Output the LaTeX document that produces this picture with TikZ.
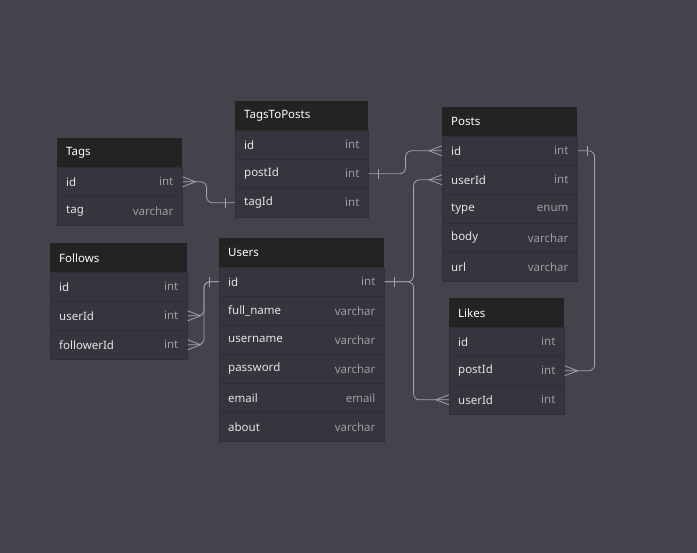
\documentclass[tikz,border=0pt]{standalone}
\usepackage{fontspec}
\setmainfont{Noto Sans}
\usetikzlibrary{calc}
\definecolor{bg}{HTML}{44434B}
\definecolor{hdr}{HTML}{232323}
\definecolor{rowc}{HTML}{35353D}
\definecolor{sep}{HTML}{2E2E35}
\definecolor{ntxt}{HTML}{E4E4E6}
\definecolor{ttxt}{HTML}{9C9CA2}
\definecolor{lnc}{HTML}{A2A2AA}
\tikzset{
  hdrbox/.style={fill=hdr,draw=none,anchor=north west,inner sep=0pt},
  rowbox/.style={fill=rowc,draw=sep,line width=0.6pt,anchor=north west,inner sep=0pt},
  ntext/.style={anchor=west,text=ntxt,inner sep=0pt,font=\fontsize{11.5}{13}\selectfont},
  ttext/.style={anchor=east,text=ttxt,inner sep=0pt,font=\fontsize{11.5}{13}\selectfont},
  htext/.style={anchor=west,text=white,inner sep=0pt,font=\bfseries\fontsize{11.5}{13}\selectfont},
  conn/.style={draw=lnc,line width=0.8pt,rounded corners=6pt},
  endmark/.style={draw=lnc,line width=0.8pt}
}
% \tbl{name}{x}{y}{w}{title}{rows: name/type}
\newcommand{\tbl}[6]{%
  \node[hdrbox,minimum width=#4pt,minimum height=29pt] (#1-0) at (#2,#3) {};
  \node[htext] at ($(#1-0.west)+(9,0)$) {#5};
  \foreach [count=\i] \n/\t in {#6} {
    \pgfmathsetmacro\yy{#3+29*\i}
    \node[rowbox,minimum width=#4pt,minimum height=29pt] (#1-\i) at (#2,\yy) {};
    \ifnum\i=1
      \node[ntext,font=\bfseries\fontsize{11.5}{13}\selectfont] at ($(#1-\i.west)+(9,0)$) {\n};
      \node[ttext,font=\bfseries\fontsize{11.5}{13}\selectfont] at ($(#1-\i.east)+(-9,0)$) {\t};
    \else
      \node[ntext] at ($(#1-\i.west)+(9,0)$) {\n};
      \node[ttext] at ($(#1-\i.east)+(-9,0)$) {\t};
    \fi
  }%
}
% crow's foot: #1 point on table edge, #2 = +1 (lines go right) or -1
\newcommand{\crow}[2]{%
  \draw[endmark] ($(#1)+(0,5)$) -- ($(#1)+(#2*13,0)$) -- ($(#1)+(0,-5)$);
}
\newcommand{\onebar}[2]{%
  \draw[endmark] ($(#1)+(#2*10,5)$) -- ($(#1)+(#2*10,-5)$);
}
\begin{document}
\begin{tikzpicture}[x=1pt,y=-1pt]
\fill[bg] (0,0) rectangle (697,553);
\useasboundingbox (0,0) rectangle (697,553);
\tbl{tags}{57}{138}{125}{Tags}{id/int,tag/varchar}
\tbl{ttp}{235}{101}{133}{TagsToPosts}{id/int,postId/int,tagId/int}
\tbl{posts}{442}{107}{135}{Posts}{id/int,userId/int,type/enum,body/varchar,url/varchar}
\tbl{follows}{50}{243}{137}{Follows}{id/int,userId/int,followerId/int}
\tbl{users}{219}{238}{165}{Users}{id/int,full\_name/varchar,username/varchar,password/varchar,email/email,about/varchar}
\tbl{likes}{449}{298}{115}{Likes}{id/int,postId/int,userId/int}
% connectors
\draw[conn] (tags-1.east) -- ++(24,0) |- (ttp-3.west);
\crow{tags-1.east}{1}
\onebar{ttp-3.west}{-1}
\draw[conn] (ttp-2.east) -- ++(37,0) |- (posts-1.west);
\onebar{ttp-2.east}{1}
\crow{posts-1.west}{-1}
\draw[conn] (users-1.east) -- ++(29,0) |- (posts-2.west);
\draw[conn] (users-1.east) -- ++(29,0) |- (likes-3.west);
\onebar{users-1.east}{1}
\crow{posts-2.west}{-1}
\crow{likes-3.west}{-1}
\draw[conn] (posts-1.east) -- ++(17,0) |- (likes-2.east);
\onebar{posts-1.east}{1}
\crow{likes-2.east}{1}
\draw[conn] (users-1.west) -- ++(-15,0) |- (follows-2.east);
\draw[conn] (users-1.west) -- ++(-15,0) |- (follows-3.east);
\onebar{users-1.west}{-1}
\crow{follows-2.east}{1}
\crow{follows-3.east}{1}
\end{tikzpicture}
\end{document}
